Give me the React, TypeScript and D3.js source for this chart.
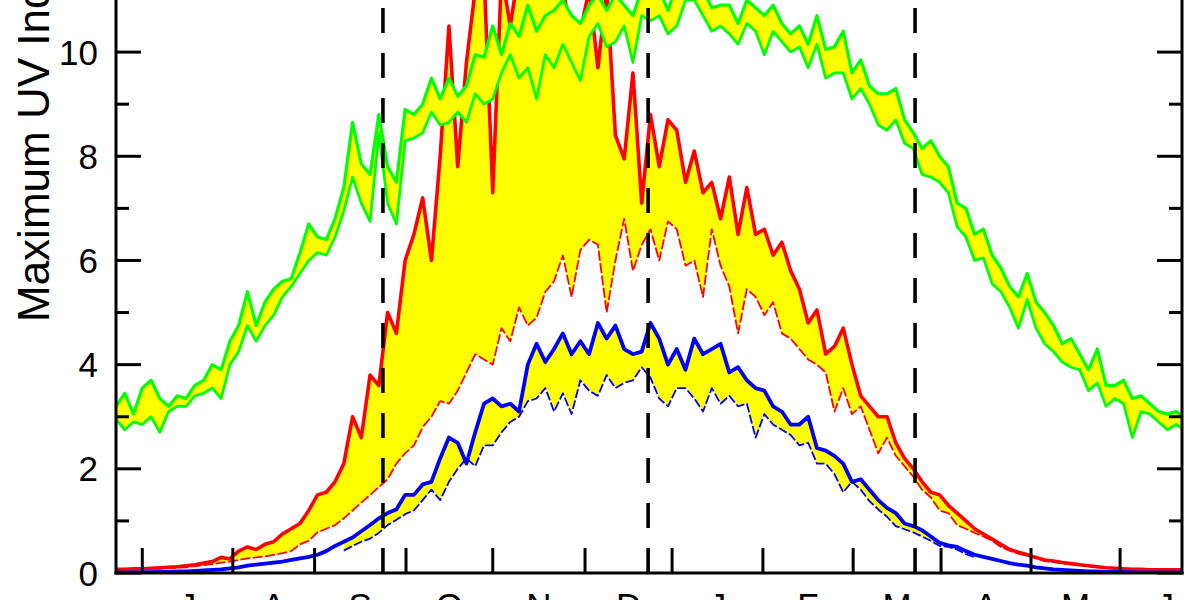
import React from "react";
import * as d3 from "d3";

// ---- data (one point every 3 days from 21 June) ----
const DAY_STEP = 3;

const greenHigh = [
  3.2, 3.45, 3.05, 3.55, 3.7, 3.35, 3.2, 3.4, 3.35, 3.6,
  3.7, 4.0, 3.9, 4.45, 4.75, 5.4, 4.75, 5.2, 5.45, 5.6,
  5.65, 6.15, 6.7, 6.45, 6.4, 6.8, 7.4, 8.65, 7.85, 7.65,
  8.8, 7.8, 7.5, 8.9, 8.8, 9.0, 9.5, 9.1, 9.5, 9.15,
  9.35, 9.95, 9.9, 10.5, 9.95, 10.55, 10.3, 10.9, 10.4, 10.7,
  10.8, 11.0, 10.7, 10.55, 10.9, 11.1, 10.8, 11.1, 10.9, 10.7,
  11.2, 11.3, 11.2, 10.8, 11.3, 11.6, 11.5, 11.2, 10.85, 10.9,
  10.9, 10.55, 11.0, 10.85, 10.7, 10.9, 10.55, 10.35, 10.5, 10.15,
  10.7, 10.05, 10.1, 10.4, 9.6, 9.85, 9.35, 9.2, 9.2, 9.3,
  8.7, 8.45, 8.15, 8.3, 8.0, 7.8, 7.1, 7.0, 6.5, 6.6,
  6.1, 5.85, 5.5, 5.3, 5.75, 5.2, 5.0, 4.75, 4.4, 4.5,
  4.2, 3.9, 4.3, 3.6, 3.6, 3.7, 3.35, 3.4, 3.25, 3.1,
  3.05, 3.1, 2.95,
];

const greenLow = [
  2.95, 2.75, 2.9, 2.85, 3.0, 2.7, 3.1, 3.2, 3.2, 3.4,
  3.45, 3.55, 3.35, 4.0, 4.25, 4.75, 4.45, 4.75, 4.95, 5.3,
  5.5, 5.75, 6.0, 6.15, 6.1, 6.45, 6.95, 7.6, 7.1, 6.75,
  8.45, 7.1, 6.7, 8.3, 8.35, 8.45, 8.85, 8.6, 8.65, 8.85,
  8.65, 9.2, 9.0, 9.1, 9.6, 9.95, 9.5, 9.7, 9.1, 9.95,
  9.7, 10.15, 9.8, 9.45, 10.3, 10.55, 10.1, 10.2, 10.5, 9.8,
  10.7, 10.6, 10.7, 10.35, 10.5, 11.0, 11.0, 10.7, 10.4, 10.5,
  10.35, 10.15, 10.55, 10.4, 9.95, 10.4, 10.2, 10.0, 10.1, 9.7,
  10.15, 9.5, 9.6, 9.6, 9.1, 9.3, 9.0, 8.6, 8.5, 8.7,
  8.25, 8.15, 7.65, 7.6, 7.5, 7.3, 6.65, 6.45, 6.0, 6.05,
  5.55, 5.4, 5.1, 4.7, 5.25, 4.7, 4.4, 4.25, 4.05, 3.95,
  3.9, 3.5, 3.65, 3.2, 3.35, 3.25, 2.6, 3.1, 3.05, 2.9,
  2.75, 2.85, 2.75,
];

const redHigh = [
  0.07, 0.07, 0.08, 0.08, 0.09, 0.1, 0.11, 0.12, 0.14, 0.16,
  0.19, 0.22, 0.3, 0.27, 0.42, 0.5, 0.45, 0.55, 0.6, 0.75,
  0.85, 0.95, 1.2, 1.5, 1.55, 1.75, 2.1, 3.0, 2.6, 3.8,
  3.6, 5.0, 4.6, 6.0, 6.5, 7.2, 6.0, 8.0, 10.5, 7.8,
  9.8, 11.2, 11.5, 7.3, 11.5, 10.5, 11.6, 11.3, 11.8, 11.4,
  11.6, 11.3, 10.1, 10.4, 11.2, 9.7, 11.2, 8.4, 7.95, 9.6,
  7.1, 8.8, 7.8, 8.7, 8.5, 7.5, 8.1, 7.3, 7.5, 6.8,
  7.6, 6.5, 7.4, 6.5, 6.6, 6.1, 6.35, 5.8, 5.45, 4.8,
  5.05, 4.2, 4.35, 4.7, 4.0, 3.4, 3.2, 3.0, 3.0, 2.5,
  2.2, 2.0, 1.75, 1.55, 1.5, 1.3, 1.15, 1.0, 0.85, 0.75,
  0.65, 0.55, 0.45, 0.4, 0.35, 0.3, 0.25, 0.23, 0.2, 0.18,
  0.16, 0.14, 0.12, 0.1, 0.09, 0.08, 0.07, 0.07, 0.06, 0.06,
  0.06, 0.06, 0.06,
];

const redLow = [
  0.05, 0.05, 0.06, 0.06, 0.07, 0.08, 0.09, 0.1, 0.11, 0.13,
  0.15, 0.17, 0.2, 0.22, 0.25, 0.28, 0.3, 0.32, 0.35, 0.38,
  0.42, 0.55, 0.62, 0.78, 0.85, 0.92, 1.05, 1.2, 1.35, 1.5,
  1.65, 1.8, 2.1, 2.3, 2.45, 2.8, 3.0, 3.3, 3.25, 3.5,
  3.85, 4.2, 4.1, 4.0, 4.7, 4.45, 5.1, 4.75, 4.9, 5.4,
  5.6, 6.1, 5.3, 6.2, 6.4, 6.3, 5.0, 6.0, 6.8, 5.8,
  6.3, 6.6, 6.0, 6.75, 6.6, 5.9, 6.0, 5.3, 6.6, 5.9,
  5.5, 4.6, 5.45, 5.3, 4.95, 5.2, 4.6, 4.5, 4.3, 4.1,
  4.0, 3.85, 3.1, 3.55, 3.05, 3.2, 2.75, 2.3, 2.6, 2.25,
  2.05, 1.85, 1.6, 1.45, 1.2, 1.15, 0.92, 0.85, 0.77, 0.7,
  0.62, 0.5, 0.43, 0.37, 0.33, 0.28, 0.23, 0.21, 0.19, 0.17,
  0.15, 0.13, 0.11, 0.1, 0.09, 0.08, 0.07, 0.07, 0.06, 0.06,
  0.06, 0.06, 0.06,
];

const blueHigh = [
  0.01, 0.01, 0.01, 0.01, 0.015, 0.02, 0.02, 0.03, 0.03, 0.04,
  0.05, 0.06, 0.07, 0.09, 0.11, 0.14, 0.16, 0.18, 0.2, 0.22,
  0.25, 0.28, 0.31, 0.35, 0.42, 0.52, 0.6, 0.68, 0.8, 0.92,
  1.05, 1.15, 1.22, 1.5, 1.5, 1.7, 1.75, 2.2, 2.6, 2.5,
  2.1, 2.7, 3.25, 3.35, 3.2, 3.25, 3.1, 4.0, 4.4, 4.05,
  4.3, 4.6, 4.2, 4.45, 4.2, 4.8, 4.5, 4.75, 4.3, 4.2,
  4.25, 4.8, 4.5, 4.0, 4.3, 3.9, 4.5, 4.2, 4.3, 4.4,
  3.85, 3.95, 3.7, 3.55, 3.5, 3.2, 3.1, 2.85, 2.85, 3.0,
  2.4, 2.35, 2.25, 2.1, 1.75, 1.8, 1.6, 1.4, 1.25, 1.15,
  0.95, 0.9, 0.82, 0.7, 0.58, 0.53, 0.5, 0.42, 0.35, 0.31,
  0.27, 0.23, 0.19, 0.16, 0.14, 0.11, 0.09, 0.07, 0.06, 0.05,
  0.04, 0.03, 0.03, 0.02, 0.02, 0.02, 0.01, 0.01, 0.01, 0.01,
  0.01, 0.01, 0.01,
];

// the thin blue curve only covers part of the season
const BLUE_LOW_START = 26;
const blueLow = [
  0.43, 0.52, 0.6, 0.66,
  0.77, 0.92, 1.02, 1.13, 1.2, 1.4, 1.6, 1.4, 1.75, 2.0,
  2.2, 2.05, 2.45, 2.45, 2.7, 2.9, 3.0, 3.3, 3.35, 3.55,
  3.1, 3.45, 3.05, 3.7, 3.5, 3.4, 3.8, 3.55, 3.65, 3.7,
  3.95, 3.75, 3.35, 3.2, 3.55, 3.55, 3.35, 3.1, 3.55, 3.25,
  3.4, 3.2, 3.25, 2.6, 3.05, 2.85, 2.75, 2.65, 2.45, 2.5,
  2.1, 2.1, 1.9, 1.55, 1.75, 1.6, 1.38, 1.22, 1.08, 0.9,
  0.84, 0.78, 0.7, 0.62, 0.52, 0.5, 0.45, 0.36, 0.3,
];

// month boundaries (days since 21 June) and labels
const monthTickDays = [9, 40, 68, 99.3, 129, 160.6, 190.4, 221.5, 252.4, 282.5, 313.3, 343.8];
const monthLabels = ["J", "A", "S", "O", "N", "D", "J", "F", "M", "A", "M", "J"];
// equinoxes / solstice
const markerDays = [91.4, 182.2, 273.6];
const yTicks = [0, 1, 2, 3, 4, 5, 6, 7, 8, 9, 10];
const yLabel = "Maximum UV Index";

const W = 1200;
const H = 600;
const LEFT = 116;
const RIGHT = 1182;
const BOTTOM = 573;
const FONT = "'Liberation Sans', Arial, Helvetica, sans-serif";

type Band = { d: number; lo: number; hi: number };

export default function App() {
  const x = d3.scaleLinear().domain([0, 365]).range([LEFT, RIGHT]);
  const y = d3.scaleLinear().domain([0, 11]).range([BOTTOM, 0]);

  const band = (hi: number[], lo: number[], loStart = 0): Band[] =>
    lo.map((v, k) => ({ d: (loStart + k) * DAY_STEP, lo: v, hi: hi[loStart + k] }));

  const greenBand = band(greenHigh, greenLow);
  const redBand = band(redHigh, redLow);
  const blueBand = band(blueHigh, blueLow, BLUE_LOW_START);

  const area = d3
    .area<Band>()
    .x((p) => x(p.d))
    .y0((p) => y(p.lo))
    .y1((p) => y(p.hi));

  const line = (arr: number[], start = 0) =>
    d3
      .line<number>()
      .x((_, k) => x((start + k) * DAY_STEP))
      .y((v) => y(v))(arr) || "";

  const tickLabelX = monthTickDays.map((t, k) => {
    const next = k < monthTickDays.length - 1 ? monthTickDays[k + 1] : t + 31;
    return x((t + next) / 2);
  });

  return (
    <svg
      width={W}
      height={H}
      style={{ position: "absolute", left: 0, top: 0, background: "#fff" }}
      fontFamily={FONT}
    >
      <defs>
        <clipPath id="plotClip">
          <rect x={LEFT} y={-60} width={RIGHT - LEFT} height={BOTTOM + 60} />
        </clipPath>
      </defs>

      <g clipPath="url(#plotClip)">
        {/* fills */}
        <path d={area(redBand) || ""} fill="#ffff00" stroke="none" />
        <path d={area(blueBand) || ""} fill="#ffff00" stroke="none" />
        {/* red pair */}
        <path d={line(redLow)} fill="none" stroke="#ff0000" strokeWidth={1.8} strokeDasharray="10,2.5" strokeLinejoin="round" />
        <path d={line(redHigh)} fill="none" stroke="#ff0000" strokeWidth={3.6} strokeLinejoin="round" />
        {/* blue pair */}
        <path d={line(blueLow, BLUE_LOW_START)} fill="none" stroke="#0000ff" strokeWidth={1.8} strokeDasharray="9,2.5" strokeLinejoin="round" />
        <path d={line(blueHigh)} fill="none" stroke="#0000ff" strokeWidth={3.8} strokeLinejoin="round" />
        {/* green pair */}
        <path d={area(greenBand) || ""} fill="#ffff00" stroke="none" />
        <path d={line(greenLow)} fill="none" stroke="#00ff00" strokeWidth={2.8} strokeLinejoin="round" />
        <path d={line(greenHigh)} fill="none" stroke="#00ff00" strokeWidth={3.2} strokeLinejoin="round" />

        {/* equinox / solstice markers */}
        {markerDays.map((d) => (
          <line
            key={d}
            x1={x(d)}
            x2={x(d)}
            y1={y(0)}
            y2={-20}
            stroke="#000"
            strokeWidth={3.6}
            strokeDasharray="25,20"
          />
        ))}
      </g>

      {/* axes */}
      <g stroke="#000" strokeWidth={3} fill="none">
        <line x1={LEFT} x2={LEFT} y1={BOTTOM + 1.5} y2={0} />
        <line x1={RIGHT} x2={RIGHT} y1={BOTTOM + 1.5} y2={0} />
        <line x1={LEFT - 1.5} x2={RIGHT + 1.5} y1={BOTTOM} y2={BOTTOM} />
        {yTicks.map((t) => {
          const len = t % 2 === 0 ? 25 : 13;
          return (
            <g key={t}>
              <line x1={LEFT} x2={LEFT + len} y1={y(t)} y2={y(t)} />
              <line x1={RIGHT} x2={RIGHT - len} y1={y(t)} y2={y(t)} />
            </g>
          );
        })}
        {monthTickDays.map((t) => (
          <line key={t} x1={x(t)} x2={x(t)} y1={BOTTOM} y2={BOTTOM - 25} />
        ))}
      </g>

      {/* tick labels */}
      <g fill="#000" fontSize={35}>
        {yTicks
          .filter((t) => t % 2 === 0)
          .map((t) => (
            <text key={t} x={98} y={y(t)} dy="0.36em" textAnchor="end">
              {t}
            </text>
          ))}
        {monthLabels.map((m, k) => (
          <text key={k} x={tickLabelX[k]} y={618} textAnchor="middle">
            {m}
          </text>
        ))}
      </g>

      <text
        transform="translate(49,322) rotate(-90)"
        fontSize={44}
        fill="#000"
        textAnchor="start"
      >
        {yLabel}
      </text>
    </svg>
  );
}
